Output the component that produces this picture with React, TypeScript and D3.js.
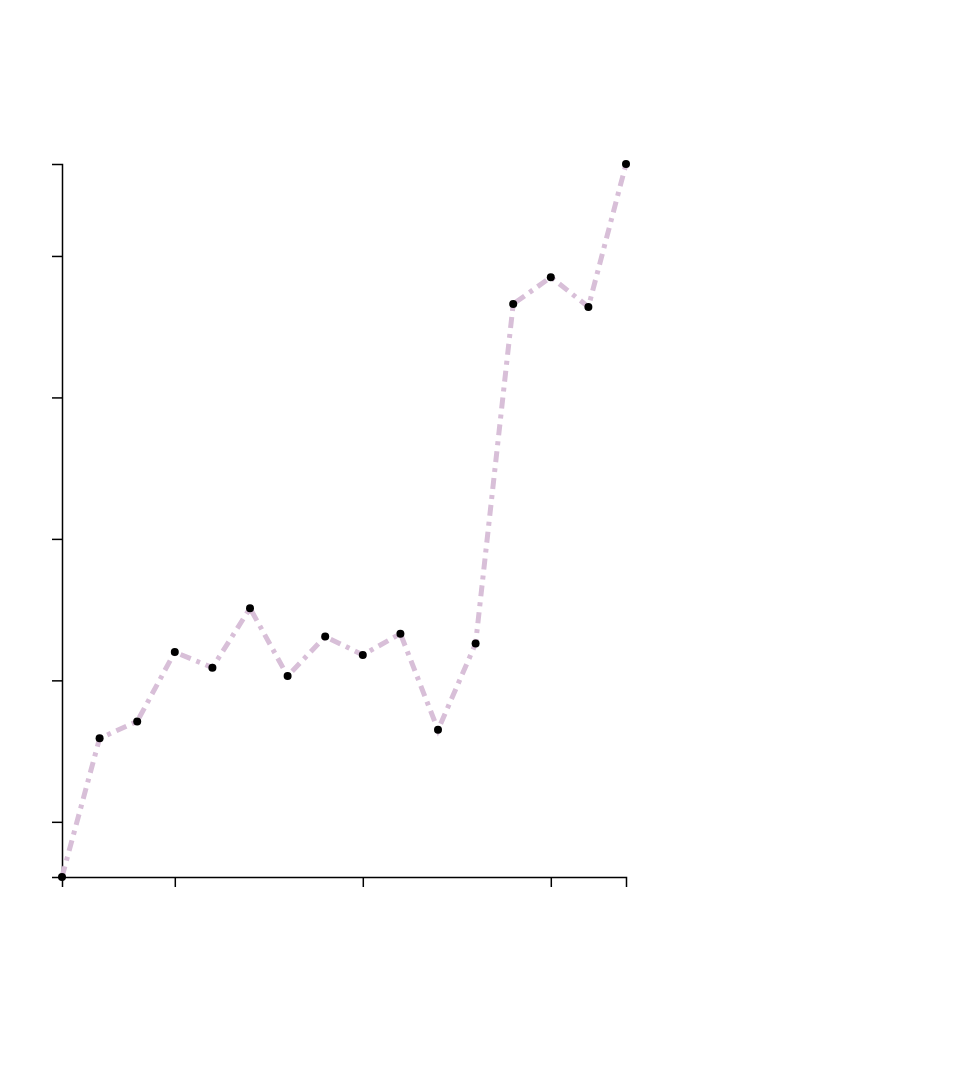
import React, { useEffect, useRef } from 'react';
import * as d3 from 'd3';

// years along x, values along y (no labels shown in the chart)
const years = [2002, 2003, 2004, 2005, 2006, 2007, 2008, 2009, 2010, 2011, 2012, 2013, 2014, 2015, 2016, 2017];
const values = [6.1, 15.9, 17.1, 22.0, 20.9, 25.1, 20.3, 23.1, 21.8, 23.3, 16.5, 22.6, 46.6, 48.5, 46.4, 56.5];

const WIDTH = 980;
const HEIGHT = 1066;
const MARGIN = { top: 164, right: 354, bottom: 189, left: 62 };
const LINE_COLOR = '#d8bfd8';

const App: React.FC = () => {
  const svgRef = useRef<SVGSVGElement>(null);

  useEffect(() => {
    if (!svgRef.current) return;
    const svg = d3.select(svgRef.current);
    svg.selectAll('*').remove();

    const data = years.map((y, i) => ({ year: y, value: values[i] }));

    const x = d3.scaleLinear()
      .domain(d3.extent(years) as [number, number])
      .range([MARGIN.left, WIDTH - MARGIN.right]);

    const y = d3.scaleLinear()
      .domain(d3.extent(values) as [number, number])
      .range([HEIGHT - MARGIN.bottom, MARGIN.top]);

    // x axis
    const xAxis = svg.append('g')
      .attr('transform', `translate(0, ${HEIGHT - MARGIN.bottom})`)
      .call(d3.axisBottom(x).ticks(3).tickSize(10).tickFormat(() => ''));
    xAxis.selectAll('path, line').attr('stroke', '#000').attr('stroke-width', 1.5);

    // y axis
    const yAxis = svg.append('g')
      .attr('transform', `translate(${MARGIN.left}, 0)`)
      .call(d3.axisLeft(y).ticks(5).tickSize(10).tickFormat(() => ''));
    yAxis.selectAll('path, line').attr('stroke', '#000').attr('stroke-width', 1.5);

    const line = d3.line<{ year: number; value: number }>()
      .x(d => x(d.year))
      .y(d => y(d.value));

    svg.append('path')
      .datum(data)
      .attr('d', line)
      .attr('fill', 'none')
      .attr('stroke', LINE_COLOR)
      .attr('stroke-width', 5)
      .attr('stroke-dasharray', '11,6,4,6');

    svg.append('g')
      .selectAll('circle')
      .data(data)
      .join('circle')
      .attr('cx', d => x(d.year))
      .attr('cy', d => y(d.value))
      .attr('r', 4)
      .attr('fill', '#000');
  }, []);

  return (
    <svg
      ref={svgRef}
      width={WIDTH}
      height={HEIGHT}
      style={{ position: 'absolute', top: 0, left: 0, background: '#fff' }}
    />
  );
};

export default App;
